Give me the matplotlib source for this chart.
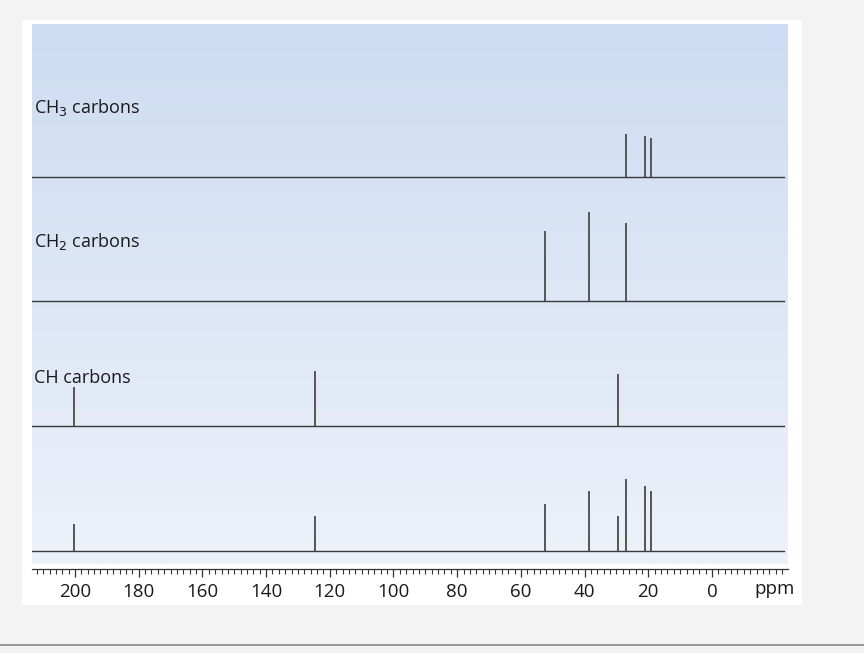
import numpy as np
import matplotlib
matplotlib.use("Agg")
import matplotlib.pyplot as plt
from matplotlib.patches import Rectangle
from matplotlib.lines import Line2D
from matplotlib.ticker import MultipleLocator

# peak positions (ppm) and heights (arbitrary units) for each spectrum
ch3_ppm = [27.0, 21.0, 19.2]
ch3_h = [43, 41, 39]
ch2_ppm = [52.4, 38.6, 27.0]
ch2_h = [70, 89, 78]
ch_ppm = [200.3, 124.6, 29.5]
ch_h = [39, 55, 52]
all_ppm = [200.3, 124.6, 52.4, 38.6, 29.5, 27.0, 21.0, 19.2]
all_h = [27, 35, 47, 60, 35, 72, 65, 60]

labels = ["CH$_3$ carbons", "CH$_2$ carbons", "CH carbons", None]
tick_vals = [200, 180, 160, 140, 120, 100, 80, 60, 40, 20, 0]

plt.rcParams['font.family'] = ['Open Sans', 'DejaVu Sans']

W, H = 864, 653
fig = plt.figure(figsize=(W / 100, H / 100), dpi=100)
fig.patch.set_facecolor('#f3f3f3')

# white card
fig.patches.append(Rectangle((22 / W, 1 - 605 / H), 780 / W, 585 / H,
                             transform=fig.transFigure, facecolor='white',
                             edgecolor='none', zorder=-5))
# separator line at the bottom
fig.lines.append(Line2D([0, 1], [1 - 645 / H, 1 - 645 / H], transform=fig.transFigure,
                        color='#8a8a8a', lw=1.2, zorder=-5))

x0, x1 = 32, 788
y0, y1 = 24, 564
ax = fig.add_axes([x0 / W, 1 - y1 / H, (x1 - x0) / W, (y1 - y0) / H])
xl, xr = (712 - x0) / 3.185, (712 - x1) / 3.185

# blue gradient background
top = np.array([205, 220, 242]) / 255
bot = np.array([237, 241, 250]) / 255
t = np.linspace(0, 1, 256)[:, None]
grad = top * (1 - t) + bot * t
ax.imshow(grad[:, None, :], extent=[xl, xr, 0, y1 - y0], aspect='auto', zorder=0)
ax.set_xlim(xl, xr)
ax.set_ylim(0, y1 - y0)

offsets = [387, 263, 138, 13]
label_dy = [70, 60, 48, 0]
spectra = [(ch3_ppm, ch3_h), (ch2_ppm, ch2_h), (ch_ppm, ch_h), (all_ppm, all_h)]
base_right = (712 - 784) / 3.185
for (ppm, h), off, lab, dy in zip(spectra, offsets, labels, label_dy):
    ax.plot([xl, base_right], [off, off], color='#3a3a3a', lw=1.0, zorder=2)
    ax.vlines(ppm, off, [off + v for v in h], color='#505050', lw=1.35, zorder=3)
    if lab:
        ax.text(xl - 0.5, off + dy, lab, fontsize=13, color='#1a1a1a',
                ha='left', va='center')

ax.axis('off')

# ppm scale below
sx = fig.add_axes([x0 / W, 1 - 569 / H, (x1 - x0) / W, 0.0001])
sx.set_xlim(xl, xr)
sx.set_ylim(0, 1)
for s in ['top', 'left', 'right']:
    sx.spines[s].set_visible(False)
sx.spines['bottom'].set_color('#333333')
sx.spines['bottom'].set_linewidth(0.9)
sx.patch.set_alpha(0)
sx.set_yticks([])
sx.set_xticks(tick_vals)
sx.xaxis.set_minor_locator(MultipleLocator(2))
sx.tick_params(axis='x', which='major', length=6, width=0.9, color='#333333',
               labelsize=13.5, pad=4, labelcolor='#1a1a1a')
sx.tick_params(axis='x', which='minor', length=3.5, width=0.8, color='#333333')
fig.text(775 / W, 1 - 589 / H, "ppm", fontsize=13.5, color='#1a1a1a',
         ha='center', va='center')

fig.savefig("out.png", dpi=100, facecolor=fig.get_facecolor())
